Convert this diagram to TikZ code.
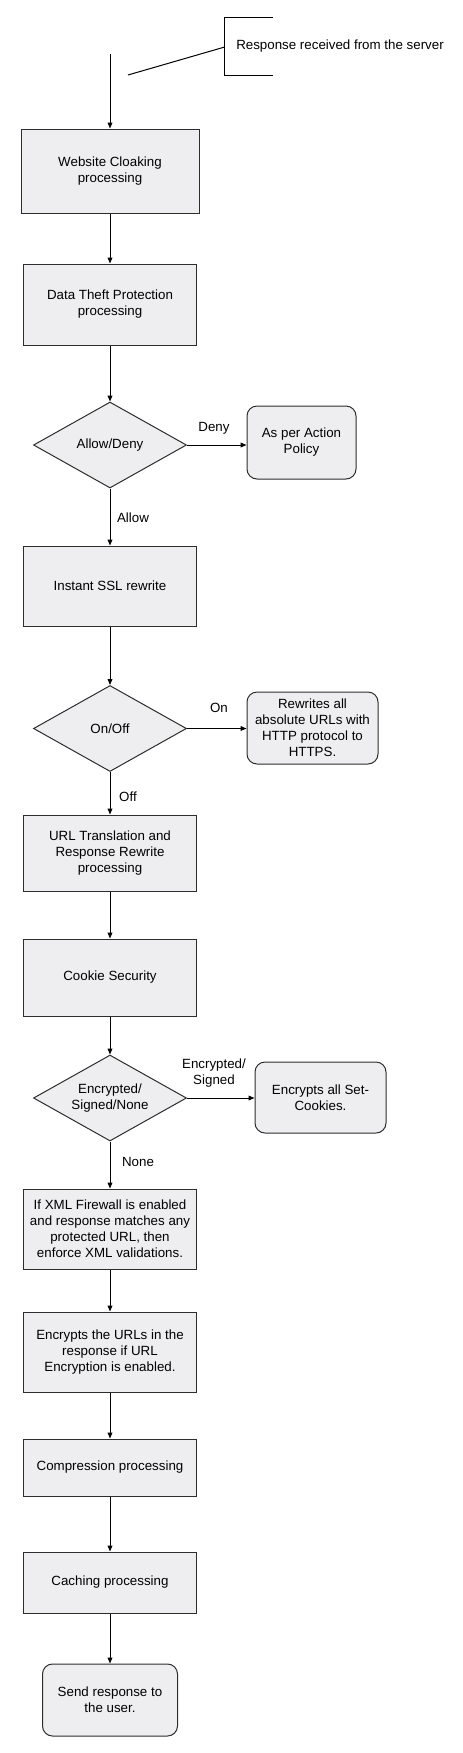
\documentclass[tikz,border=0pt]{standalone}
\usepackage{fontspec}
\setmainfont{Liberation Sans}
\usetikzlibrary{shapes.geometric,arrows.meta}
\definecolor{boxfill}{RGB}{238,238,240}
\definecolor{edge}{RGB}{45,45,45}
\begin{document}
\begin{tikzpicture}[x=0.75pt,y=-0.75pt,
  font=\fontsize{10}{12}\selectfont,
  every node/.style={inner sep=0pt},
  proc/.style={draw=edge,fill=boxfill,line width=0.75pt,rectangle,align=center},
  term/.style={proc,rounded corners=7.5pt},
  dec/.style={draw=edge,fill=boxfill,line width=0.75pt,diamond,aspect=1.78,align=center,minimum width=153*0.75pt,minimum height=86*0.75pt},
  flow/.style={draw=black,line width=0.75pt,-{Triangle[length=4.5pt,width=3.6pt]}},
  plain/.style={draw=black,line width=0.75pt},
  lbl/.style={align=center}]
\useasboundingbox (0,0) rectangle (463,1753);

% callout
\node[anchor=west] (resp) at (236,46) {Response received from the server};
\coordinate (ctl) at (273,17);
\coordinate (cbl) at (224.7,17);
\coordinate (cbb) at (224.7,75);
\coordinate (cbr) at (273,75);
\coordinate (cmid) at (224.7,47);
\coordinate (cend) at (128,75);
\draw[plain] (ctl) -- (cbl) -- (cbb) -- (cbr);
\draw[plain] (cend) -- (cmid);

\coordinate (start) at (110,54);

\node[proc,minimum width=178*0.75pt,minimum height=84*0.75pt] (b1) at (110,171) {Website Cloaking\\processing};
\node[proc,minimum width=173*0.75pt,minimum height=81*0.75pt] (b2) at (110,304.5) {Data Theft Protection\\processing};
\node[dec] (d1) at (110,445) {Allow/Deny};
\node[term,minimum width=109*0.75pt,minimum height=73*0.75pt] (r1) at (301.5,442.5) {As per Action\\Policy};
\node[proc,minimum width=173*0.75pt,minimum height=80*0.75pt] (b3) at (110,586) {Instant SSL rewrite};
\node[dec] (d2) at (110,728.5) {On/Off};
\node[term,minimum width=131*0.75pt,minimum height=72*0.75pt] (r2) at (312.5,728) {Rewrites all\\absolute URLs with\\HTTP protocol to\\HTTPS.};
\node[proc,minimum width=173*0.75pt,minimum height=76*0.75pt] (b4) at (110,853) {URL Translation and\\Response Rewrite\\processing};
\node[proc,minimum width=173*0.75pt,minimum height=77*0.75pt] (b5) at (110,977.5) {Cookie Security};
\node[dec] (d3) at (110,1098) {Encrypted/\\Signed/None};
\node[term,minimum width=131*0.75pt,minimum height=71*0.75pt] (r3) at (320.5,1097.5) {Encrypts all Set-\\Cookies.};
\node[proc,minimum width=173*0.75pt,minimum height=80*0.75pt] (b6) at (110,1229) {If XML Firewall is enabled\\and response matches any\\protected URL, then\\enforce XML validations.};
\node[proc,minimum width=173*0.75pt,minimum height=80*0.75pt] (b7) at (110,1352) {Encrypts the URLs in the\\response if URL\\Encryption is enabled.};
\node[proc,minimum width=173*0.75pt,minimum height=57*0.75pt] (b8) at (110,1467.5) {Compression processing};
\node[proc,minimum width=173*0.75pt,minimum height=61*0.75pt] (b9) at (110,1582.5) {Caching processing};
\node[term,minimum width=135*0.75pt,minimum height=72*0.75pt] (r4) at (110,1700) {Send response to\\the user.};

% labels
\node[lbl] (ldeny) at (214,428) {Deny};
\node[lbl] (lallow) at (133,518) {Allow};
\node[lbl] (lon) at (219,708) {On};
\node[lbl] (loff) at (128,797) {Off};
\node[lbl] (lenc) at (214,1073) {Encrypted/\\Signed};
\node[lbl] (lnone) at (138,1162) {None};

% connectors
\draw[flow] (start) -- (b1);
\draw[flow] (b1) -- (b2);
\draw[flow] (b2) -- (d1);
\draw[flow] (d1.east) -- (d1.east -| r1.west);
\draw[flow] (d1) -- (b3);
\draw[flow] (b3) -- (d2);
\draw[flow] (d2.east) -- (d2.east -| r2.west);
\draw[flow] (d2) -- (b4);
\draw[flow] (b4) -- (b5);
\draw[flow] (b5) -- (d3);
\draw[flow] (d3.east) -- (d3.east -| r3.west);
\draw[flow] (d3) -- (b6);
\draw[flow] (b6) -- (b7);
\draw[flow] (b7) -- (b8);
\draw[flow] (b8) -- (b9);
\draw[flow] (b9) -- (r4);
\end{tikzpicture}
\end{document}
